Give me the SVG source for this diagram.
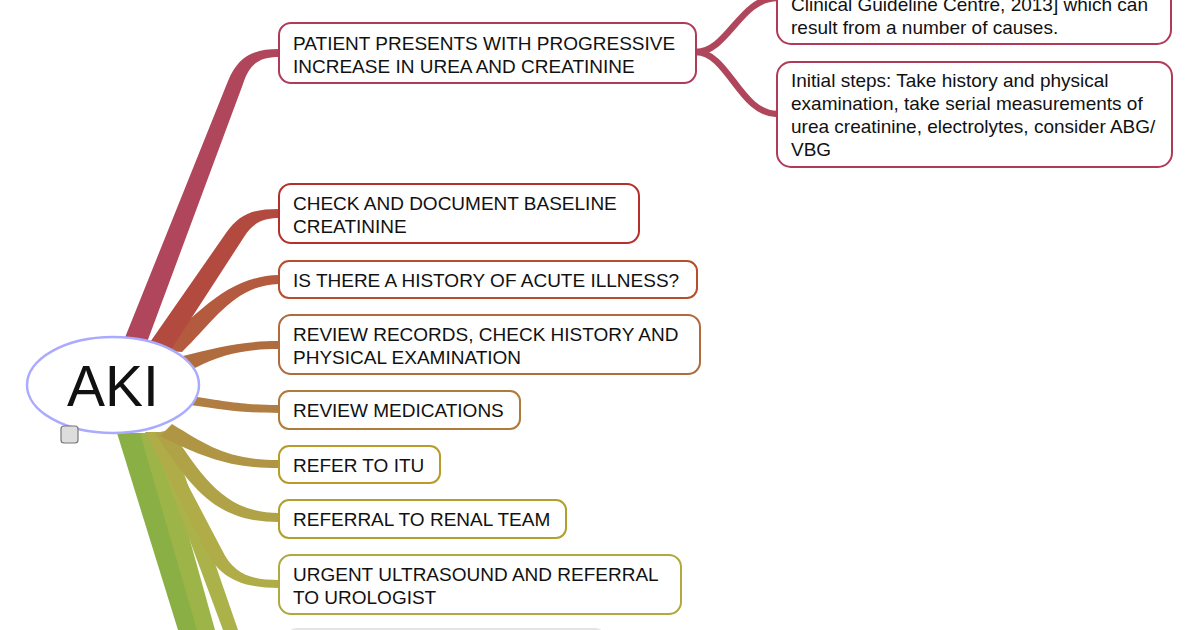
<svg xmlns="http://www.w3.org/2000/svg" width="1200" height="630" viewBox="0 0 1200 630">
<style>
text{font-family:"Liberation Sans",Arial,sans-serif;fill:#111;}
.t{font-size:19px;}
.box{fill:#fff;stroke-width:2;}
</style>
<rect width="1200" height="630" fill="#fff"/>
<g id="connectors">
  <path d="M117,433 L148,433 L207,630 L178,630 Z" fill="#8ab045"/>
  <path d="M140,433 L160,433 L215,630 L197,630 Z" fill="#9db448"/>
  <path d="M150,433 L170,433 L238,630 L223,630 Z" fill="#acb24a"/>
  <path d="M160,432 L222,550 C234,575 252,580 279,580 L279,588 C242,588 222,578 208,555 L145,432 Z" fill="#b0ac48"/>
  <path d="M170,430 C200,470 220,513 279,513 L279,522 C220,522 195,495 155,433 Z" fill="#b0a246"/>
  <path d="M172,424 C208,446 228,460 279,460 L279,468 C230,468 205,458 160,436 Z" fill="#b09544"/>
  <path d="M190,396 C230,402 245,405 279,405 L279,413 C245,413 225,410 190,405 Z" fill="#b07e42"/>
  <path d="M183,356 C215,348 240,341 279,341 L279,349 C245,349 222,354 195,368 Z" fill="#b06c3e"/>
  <path d="M155,350 C195,318 225,276 279,275 L279,284 C235,285 215,320 182,352 Z" fill="#b45a3e"/>
  <path d="M146,348 L226,233 C240,214 252,209 279,209 L279,218 C262,218 252,224 244,237 L172,348 Z" fill="#b34a40"/>
  <path d="M122,345 L228,81 C238,57 252,49 279,49 L279,57 C258,57 249,65 243,84 L146,345 Z" fill="#b0465c"/>
  <path d="M696,52 C728,52 740,-2 777,-2" fill="none" stroke="#b0465c" stroke-width="6.5"/>
  <path d="M696,52 C728,52 740,114 777,114" fill="none" stroke="#b0465c" stroke-width="6.5"/>
</g>
<g id="node-aki">
  <ellipse cx="113" cy="385" rx="86" ry="48" fill="#fff" stroke="#aaaaff" stroke-width="2.5"/>
  <text x="113" y="406" font-size="57" text-anchor="middle">AKI</text>
  <rect x="61" y="426" width="17" height="17" rx="3" fill="#dddddd" stroke="#777" stroke-width="1.2"/>
</g>
<g id="node-patient">
  <rect class="box" x="279" y="23" width="417" height="60" rx="12" stroke="#b03a58"/>
  <text class="t" x="293" y="50">PATIENT PRESENTS WITH PROGRESSIVE</text>
  <text class="t" x="293" y="73">INCREASE IN UREA AND CREATININE</text>
</g>
<g id="node-clinical">
  <rect class="box" x="777" y="-48" width="394" height="92" rx="14" stroke="#b03a58"/>
  <text class="t" x="791" y="11">Clinical Guideline Centre, 2013] which can</text>
  <text class="t" x="791" y="34">result from a number of causes.</text>
</g>
<g id="node-initial">
  <rect class="box" x="777" y="62" width="395" height="105" rx="14" stroke="#b03a58"/>
  <text class="t" x="791" y="87">Initial steps: Take history and physical</text>
  <text class="t" x="791" y="110">examination, take serial measurements of</text>
  <text class="t" x="791" y="133">urea creatinine, electrolytes, consider ABG/</text>
  <text class="t" x="791" y="156">VBG</text>
</g>
<g id="node-check">
  <rect class="box" x="279" y="184" width="360" height="59" rx="12" stroke="#b5302a"/>
  <text class="t" x="293" y="210">CHECK AND DOCUMENT BASELINE</text>
  <text class="t" x="293" y="233">CREATININE</text>
</g>
<g id="node-history">
  <rect class="box" x="279" y="261" width="418" height="37" rx="10" stroke="#b5502c"/>
  <text class="t" x="293" y="287">IS THERE A HISTORY OF ACUTE ILLNESS?</text>
</g>
<g id="node-records">
  <rect class="box" x="279" y="315" width="421" height="59" rx="12" stroke="#b06a3c"/>
  <text class="t" x="293" y="341">REVIEW RECORDS, CHECK HISTORY AND</text>
  <text class="t" x="293" y="364">PHYSICAL EXAMINATION</text>
</g>
<g id="node-meds">
  <rect class="box" x="279" y="391" width="241" height="38" rx="10" stroke="#b07a3a"/>
  <text class="t" x="293" y="417">REVIEW MEDICATIONS</text>
</g>
<g id="node-itu">
  <rect class="box" x="279" y="446" width="161" height="37" rx="10" stroke="#b89c2a"/>
  <text class="t" x="293" y="472">REFER TO ITU</text>
</g>
<g id="node-renal">
  <rect class="box" x="279" y="500" width="287" height="38" rx="10" stroke="#b0a02e"/>
  <text class="t" x="293" y="526">REFERRAL TO RENAL TEAM</text>
</g>
<g id="node-urgent">
  <rect class="box" x="279" y="555" width="402" height="59" rx="12" stroke="#b0a840"/>
  <text class="t" x="293" y="581">URGENT ULTRASOUND AND REFERRAL</text>
  <text class="t" x="293" y="604">TO UROLOGIST</text>
</g>
<g id="node-partial">
  <rect x="287" y="629" width="318" height="40" rx="10" fill="#fff" stroke="#e4e4e4" stroke-width="2"/>
</g>
</svg>
